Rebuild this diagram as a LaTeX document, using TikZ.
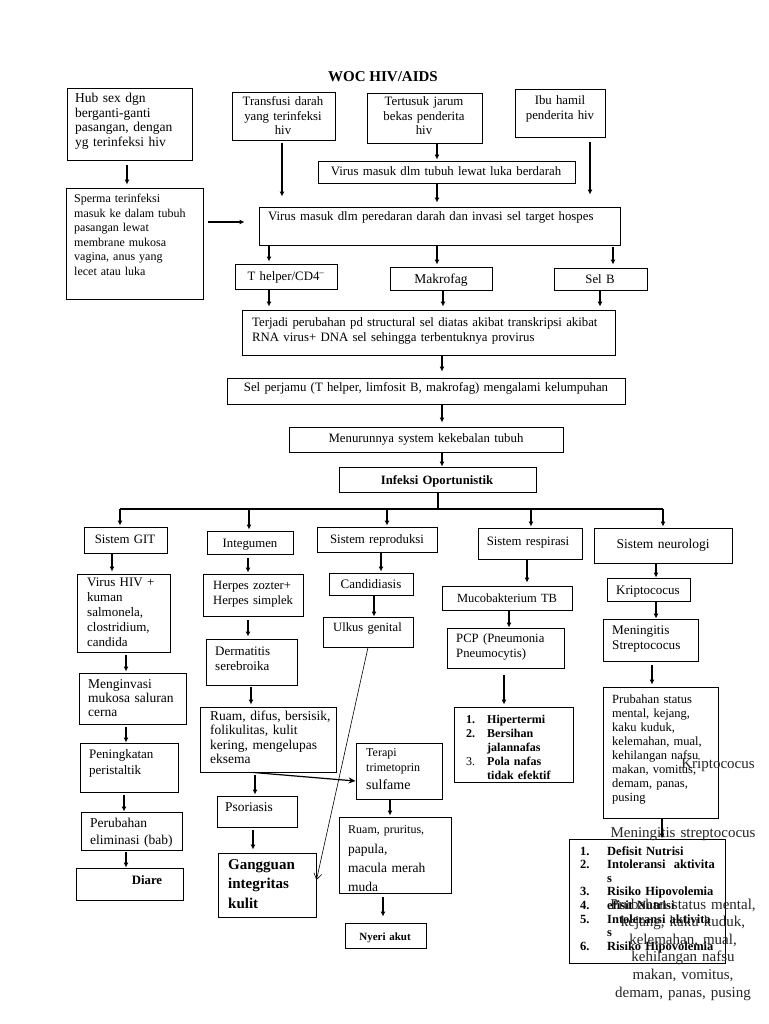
\documentclass[tikz,border=0pt]{standalone}
\usepackage{fontspec}
\setmainfont{Liberation Serif}
\usetikzlibrary{arrows.meta,fit}
\newcommand\fs{\fontsize{12.8}{14.5}\selectfont}
\newcommand\fz[2]{\fontsize{#1}{#2}\selectfont}
\newcommand\bxn[5]{\node[bx,fit={(#2,#3)(#4,#5)}] (#1) {};}
\tikzset{
  bx/.style={draw, line width=0.9pt, inner sep=0pt},
  tl/.style={anchor=base west, align=left, text width=#1, inner sep=0pt, font=\fs},
  tl/.default=200pt,
  tc/.style={anchor=base, align=center, text width=#1, inner sep=0pt, font=\fs},
  tc/.default=200pt,
  arr/.style={line width=1.4pt, -{Latex[length=5pt,width=5pt]}},
  bl/.style={font=\bfseries\fz{12.5}{14}},
  stray/.style={anchor=base, align=center, text width=200pt, inner sep=0pt, text=black!85, font=\fz{15}{17.6}},
}
\begin{document}
\begin{tikzpicture}[x=1pt,y=-1pt]
\useasboundingbox (0,0) rectangle (768,1024);
\fill[white] (0,0) rectangle (768,1024);

\node[anchor=base, font=\bfseries\fz{15}{17}] (title) at (383,82) {WOC HIV/AIDS};

% top row
\bxn{hub}{67}{88}{192}{160}
\node[tl=122pt, font=\fz{13.5}{14.5}] (thub) at (75,103) {Hub sex dgn\\berganti-ganti\\pasangan, dengan\\yg terinfeksi hiv};
\bxn{sperma}{66}{188}{203}{299}
\node[tl=130pt, font=\fz{12}{14.5}] (tsperma) at (74,203) {Sperma terinfeksi\\masuk ke dalam tubuh\\pasangan lewat\\membrane mukosa\\vagina, anus yang\\lecet atau luka};
\bxn{transf}{232}{92}{335}{140}
\node[tc=100pt] (ttransf) at (283,106) {Transfusi darah\\yang terinfeksi\\hiv};
\bxn{tusuk}{367}{93}{482}{143}
\node[tc=112pt] (ttusuk) at (424,106) {Tertusuk jarum\\bekas penderita\\hiv};
\bxn{ibu}{515}{89}{605}{137}
\node[tc=88pt] (tibu) at (560,105) {Ibu hamil\\penderita hiv};
\bxn{luka}{318}{161}{575}{183}
\node[tc=255pt] (tluka) at (446,176) {Virus masuk dlm tubuh lewat luka berdarah};
\bxn{pered}{259}{207}{620}{245}
\node[tl=355pt] (tpered) at (268,221) {Virus masuk dlm peredaran darah dan invasi sel target hospes};

\bxn{thelp}{235}{264}{337}{289}
\node[tc=100pt] (tthelp) at (286,280) {T helper/CD4\textsuperscript{--}};
\bxn{makro}{390}{267}{492}{290}
\node[tc=100pt, font=\fz{13.5}{15}] (tmakro) at (441,283) {Makrofag};
\bxn{selb}{554}{268}{647}{290}
\node[tc=90pt] (tselb) at (600,283) {Sel B};

\bxn{D}{242}{310}{615}{355}
\node[tl=365pt, font=\fz{12.8}{15}] (tD) at (252,326) {Terjadi perubahan pd structural sel diatas akibat transkripsi akibat\\RNA virus+ DNA sel sehingga terbentuknya provirus};
\bxn{E}{227}{378}{625}{404}
\node[tc=395pt] (tE) at (426,391) {Sel perjamu (T helper, limfosit B, makrofag) mengalami kelumpuhan};
\bxn{F}{289}{427}{563}{452}
\node[tc=270pt] (tF) at (426,442) {Menurunnya system kekebalan tubuh};
\bxn{G}{339}{467}{536}{492}
\node[tc=195pt, font=\bfseries\fz{12.7}{14}] (tG) at (437,484) {Infeksi Oportunistik};

% system row
\bxn{git}{84}{527}{167}{553}
\node[tc=83pt] (tgit) at (125,543) {Sistem GIT};
\bxn{integ}{207}{531}{293}{554}
\node[tc=86pt] (tinteg) at (250,547) {Integumen};
\bxn{repro}{317}{527}{437}{552}
\node[tc=120pt] (trepro) at (377,543) {Sistem reproduksi};
\bxn{resp}{478}{528}{582}{559}
\node[tc=104pt] (tresp) at (528,545) {Sistem respirasi};
\bxn{neuro}{594}{528}{732}{563}
\node[tc=138pt, font=\fz{13.5}{16}] (tneuro) at (663,548) {Sistem neurologi};

% GIT column
\bxn{vhiv}{77}{574}{170}{652}
\node[tl=90pt, font=\fz{13}{15}] (tvhiv) at (87,586) {Virus HIV +\\kuman\\salmonela,\\clostridium,\\candida};
\bxn{invasi}{79}{673}{186}{724}
\node[tl=105pt, font=\fz{13.5}{14}] (tinvasi) at (88,688) {Menginvasi\\mukosa saluran\\cerna};
\bxn{ningkat}{80}{743}{178}{792}
\node[tl=95pt, font=\fz{13}{16}] (tningkat) at (89,758) {Peningkatan\\peristaltik};
\bxn{elim}{81}{812}{182}{850}
\node[tl=100pt, font=\fz{13.5}{17}] (telim) at (90,827) {Perubahan\\eliminasi (bab)};
\bxn{diare}{76}{868}{183}{900}
\node[tc=100pt, font=\bfseries\fz{12.8}{14}] (tdiare) at (147,884) {Diare};

% Integumen column
\bxn{herpes}{203}{574}{303}{616}
\node[tl=100pt, font=\fz{12.6}{15}] (therpes) at (213,589) {Herpes zozter+\\Herpes simplek};
\bxn{derm}{206}{639}{297}{685}
\node[tl=90pt, font=\fz{13}{15}] (tderm) at (215,655) {Dermatitis\\serebroika};
\bxn{ruam}{200}{707}{336}{772}
\node[tl=135pt, font=\fz{13.5}{14.5}] (truam) at (210,720) {Ruam, difus, bersisik,\\folikulitas, kulit\\kering, mengelupas\\eksema};
\bxn{psor}{217}{796}{297}{827}
\node[tl=80pt, font=\fz{13.4}{15}] (tpsor) at (225,811) {Psoriasis};
\bxn{gangg}{218}{853}{316}{917}
\node[tl=95pt, font=\bfseries\fz{15}{19.5}] (tgangg) at (228,869) {Gangguan\\integritas\\kulit};

% Reproduksi column
\bxn{candi}{329}{573}{413}{595}
\node[tc=84pt, font=\fz{13}{15}] (tcandi) at (371,588) {Candidiasis};
\bxn{ulkus}{323}{617}{413}{647}
\node[tl=90pt, font=\fz{12.6}{15}] (tulkus) at (333,631) {Ulkus genital};
\bxn{terapi}{356}{743}{442}{799}
\node[tl=85pt, font=\fz{12}{15}] (tterapi) at (366,756) {Terapi\\trimetoprin};
\node[tl=85pt, font=\fz{14}{16}] (tsulf) at (366,789) {sulfame};
\bxn{ruam2}{339}{817}{451}{893}
\node[tl=110pt, font=\fz{12}{15}] (truam2) at (348,833) {Ruam, pruritus,};
\node[tl=110pt, font=\fz{13.5}{19}] (tpapula) at (348,853) {papula,\\macula merah\\muda};
\bxn{nyeri}{345}{923}{426}{948}
\node[tc=80pt, font=\bfseries\fz{11}{14}] (tnyeri) at (385,940) {Nyeri akut};

% Respirasi column
\bxn{muco}{442}{586}{572}{610}
\node[tc=130pt, font=\fz{12.5}{15}] (tmuco) at (507,602) {Mucobakterium TB};
\bxn{pcp}{447}{628}{564}{668}
\node[tl=115pt, font=\fz{12.7}{15}] (tpcp) at (456,642) {PCP (Pneumonia\\Pneumocytis)};
\bxn{listA}{454}{707}{573}{782}
\node[tl=110pt, font=\bfseries\fz{12}{14}] (tlistA) at (466,723) {\makebox[21pt][l]{1.}Hipertermi\\\makebox[21pt][l]{2.}Bersihan\\\hspace*{21pt}jalannafas\\\makebox[21pt][l]{\mdseries 3.}Pola nafas\\\hspace*{21pt}tidak efektif};

% Neurologi column
\bxn{kripto}{607}{578}{690}{601}
\node[tc=83pt, font=\fz{13}{15}] (tkripto) at (648,594) {Kriptococus};
\bxn{mening}{603}{619}{698}{661}
\node[tl=95pt, font=\fz{13.2}{15.5}] (tmening) at (612,634) {Meningitis\\Streptococus};
\bxn{prub}{603}{687}{718}{818}
\node[tl=115pt, font=\fz{12.5}{14}] (tprub) at (612,703) {Prubahan status\\mental, kejang,\\kaku kuduk,\\kelemahan, mual,\\kehilangan nafsu\\makan, vomitus,\\demam, panas,\\pusing};
\bxn{listB}{569}{839}{725}{963}
\node[tl=150pt, font=\bfseries\fz{12.5}{13.6}] (tlistB) at (580,855) {\makebox[27pt][l]{1.}Defisit Nutrisi\\\makebox[27pt][l]{2.}Intoleransi\ \ aktivita\\\hspace*{27pt}s\\\makebox[27pt][l]{3.}Risiko Hipovolemia\\\makebox[27pt][l]{4.}efisit Nutrisi\\\makebox[27pt][l]{5.}Intoleransi aktivita\\\hspace*{27pt}s\\\makebox[27pt][l]{6.}Risiko Hipovolemia};

% stray overlapping texts (as printed in the reference)
\node[stray, text width=90pt] (s1) at (718,768) {Kriptococus};
\node[stray, text width=160pt] (s2) at (683,837) {Meningitis streptococus};
\node[stray, text width=170pt] (s3) at (683,909) {Prubahan status mental,\\kejang, kaku kuduk,\\kelemahan, mual,\\kehilangan nafsu\\makan, vomitus,\\demam, panas, pusing};

% connectors top
\draw[arr, shorten <=5pt, shorten >=3pt] (127,0 |- hub.south) -- (127,0 |- sperma.north);
\draw[arr, shorten <=5pt, shorten >=14pt] (sperma.east |- 0,222) -- (pered.west |- 0,222);
\draw[arr, shorten <=3pt, shorten >=10pt] (282,0 |- transf.south) -- (282,0 |- pered.north);
\draw[arr, shorten >=1pt] (437,0 |- tusuk.south) -- (437,0 |- luka.north);
\draw[arr, shorten >=4pt] (437,0 |- luka.south) -- (437,0 |- pered.north);
\draw[arr, shorten <=5pt, shorten >=12pt] (590,0 |- ibu.south) -- (590,0 |- pered.north);
\draw[arr, shorten >=2pt] (269,0 |- pered.south) -- (269,0 |- thelp.north);
\draw[arr, shorten >=2pt] (437,0 |- pered.south) -- (437,0 |- makro.north);
\draw[arr, shorten <=2pt, shorten >=3pt] (613,0 |- pered.south) -- (613,0 |- selb.north);
\draw[arr, shorten >=3pt] (269,0 |- thelp.south) -- (269,0 |- D.north);
\draw[arr, shorten >=3pt] (443,0 |- makro.south) -- (443,0 |- D.north);
\draw[arr, shorten >=3pt] (600,0 |- selb.south) -- (600,0 |- D.north);
\draw[arr, shorten >=6pt] (442,0 |- D.south) -- (442,0 |- E.north);
\draw[arr, shorten >=4pt] (442,0 |- E.south) -- (442,0 |- F.north);
\draw[arr] (442,0 |- F.south) -- (442,0 |- G.north);

% branch
\coordinate (br) at (438,509);
\coordinate (brL) at (120,509);
\coordinate (brR) at (663,509);
\draw[line width=1.4pt] (br |- G.south) -- (br);
\draw[line width=1.4pt] (brL) -- (brR);
\draw[arr, shorten >=1pt] (brL) -- (brL |- git.north);
\draw[arr, shorten >=1pt] (249,0 |- br) -- (249,0 |- integ.north);
\draw[arr, shorten >=1pt] (387,0 |- br) -- (387,0 |- repro.north);
\draw[arr, shorten >=1pt] (531,0 |- br) -- (531,0 |- resp.north);
\draw[arr, shorten >=1pt] (brR) -- (brR |- neuro.north);

% GIT column
\draw[arr, shorten >=2pt] (112,0 |- git.south) -- (112,0 |- vhiv.north);
\draw[arr, shorten <=3pt, shorten >=1pt] (126,0 |- vhiv.south) -- (126,0 |- invasi.north);
\draw[arr, shorten <=3pt] (126,0 |- invasi.south) -- (126,0 |- ningkat.north);
\draw[arr, shorten <=3pt] (124,0 |- ningkat.south) -- (124,0 |- elim.north);
\draw[arr, shorten <=2pt] (126,0 |- elim.south) -- (126,0 |- diare.north);

% Integumen column
\draw[arr, shorten <=4pt, shorten >=1pt] (248,0 |- integ.south) -- (248,0 |- herpes.north);
\draw[arr, shorten <=4pt, shorten >=2pt] (248,0 |- herpes.south) -- (248,0 |- derm.north);
\draw[arr, shorten <=2pt, shorten >=2pt] (251,0 |- derm.south) -- (251,0 |- ruam.north);
\draw[arr, shorten <=3pt, shorten >=1pt] (255,0 |- ruam.south) -- (255,0 |- psor.north);
\draw[arr, shorten <=3pt, shorten >=3pt] (253,0 |- psor.south) -- (253,0 |- gangg.north);
\draw[line width=1.2pt, -{Stealth[length=7pt,width=6pt]}] (253,0 |- ruam.south) -- (terapi.west |- 0,781);
\draw[line width=0.6pt, -{Straight Barb[length=6pt,width=8pt]}] (368,0 |- ulkus.south) -- (gangg.east |- 0,880);

% Reproduksi column
\draw[arr, shorten >=1pt] (381,0 |- repro.south) -- (381,0 |- candi.north);
\draw[arr] (374,0 |- candi.south) -- (374,0 |- ulkus.north);
\draw[arr, shorten >=1pt] (390,0 |- terapi.south) -- (390,0 |- ruam2.north);
\draw[arr, shorten <=4pt, shorten >=6pt] (383,0 |- ruam2.south) -- (383,0 |- nyeri.north);

% Respirasi column
\draw[arr, shorten >=3pt] (527,0 |- resp.south) -- (527,0 |- muco.north);
\draw[arr] (509,0 |- muco.south) -- (509,0 |- pcp.north);
\draw[arr, shorten <=7pt, shorten >=2pt] (504,0 |- pcp.south) -- (504,0 |- listA.north);

% Neurologi column
\draw[arr] (656,0 |- neuro.south) -- (656,0 |- kripto.north);
\draw[arr] (656,0 |- kripto.south) -- (656,0 |- mening.north);
\draw[arr, shorten <=4pt, shorten >=2pt] (652,0 |- mening.south) -- (652,0 |- prub.north);
\draw[arr] (662,0 |- prub.south) -- (662,0 |- listB.north);
\end{tikzpicture}
\end{document}
